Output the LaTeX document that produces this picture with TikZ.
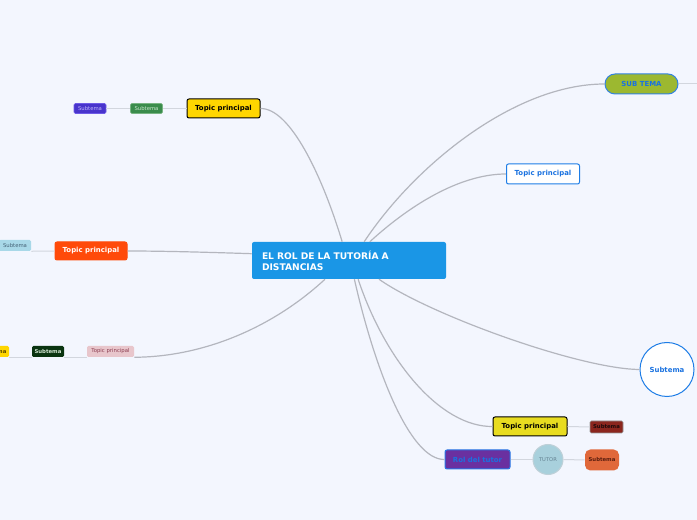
\documentclass[tikz,border=0pt]{standalone}
\usepackage{fontspec}
\setmainfont{DejaVu Sans}

\definecolor{bgcol}{HTML}{F3F6FE}
\definecolor{linecol}{HTML}{B4B6BE}
\definecolor{sublinecol}{HTML}{D2D6DE}
\definecolor{ctrblue}{HTML}{1A96E6}
\definecolor{txtblue}{HTML}{1A72E0}

\begin{document}
\begin{tikzpicture}[x=0.75pt,y=0.75pt,yscale=-1,xscale=1,
  topicbox/.style={draw, rounded corners=1.5pt, line width=0.75pt, inner sep=0pt,
    minimum width=54.75pt, minimum height=14.25pt, font=\fontsize{5.2}{6}\selectfont\bfseries},
  subbox/.style={rounded corners=1pt, inner sep=0pt, minimum width=24pt, minimum height=7.5pt,
    font=\fontsize{4}{5}\selectfont},
  mainline/.style={draw=linecol, line width=0.9pt},
  subline/.style={draw=sublinecol, line width=0.75pt}]
%uncomment if require: \path (0,520); %set diagram left start at 0, and has height of 520
\fill [bgcol] (0,0) rectangle (697,520);
\useasboundingbox (0,0) rectangle (697,520);

% Central Node
\draw (349,260.5) node (ctr) [fill=ctrblue, rounded corners=1.5pt, inner sep=0pt, minimum width=145.5pt, minimum height=27.75pt, text width=130.5pt, align=left, text=white, font=\fontsize{6.85}{8.25}\selectfont\bfseries] {EL ROL DE LA TUTORÍA A\\DISTANCIAS};

% Text Node
\draw (223.5,108.5) node (tpA) [topicbox, fill={rgb,255:red,255;green,214;blue,0}] {Topic principal};
% Text Node
\draw (146.5,108.5) node (stA1) [subbox, draw={rgb,255:red,120;green,180;blue,130}, fill={rgb,255:red,58;green,140;blue,76}, text={rgb,255:red,200;green,230;blue,205}] {Subtema};
% Text Node
\draw (90,108.5) node (stA2) [subbox, draw={rgb,255:red,110;green,90;blue,230}, fill={rgb,255:red,72;green,52;blue,204}, text={rgb,255:red,190;green,180;blue,250}] {Subtema};

% Text Node
\draw (91,251) node (tpB) [topicbox, draw={rgb,255:red,255;green,74;blue,10}, minimum width=54pt, minimum height=13.5pt, fill={rgb,255:red,255;green,74;blue,10}, text=white] {Topic principal};
% Text Node
\draw (15,245.5) node (stB) [subbox, minimum height=8.25pt, fill={rgb,255:red,168;green,216;blue,232}, text={rgb,255:red,70;green,100;blue,120}] {Subtema};

% Text Node
\draw (110.5,351.5) node (tpC) [subbox, minimum width=35.25pt, minimum height=8.25pt, fill={rgb,255:red,232;green,198;blue,204}, text={rgb,255:red,140;green,60;blue,80}] {Topic principal};
% Text Node
\draw (48,351.5) node (stC1) [subbox, minimum height=8.25pt, fill={rgb,255:red,10;green,52;blue,16}, text={rgb,255:red,210;green,230;blue,210}, font=\fontsize{4}{5}\selectfont\bfseries] {Subtema};
% Text Node
\draw (-7,351.5) node (stC2) [subbox, minimum height=8.25pt, fill={rgb,255:red,255;green,214;blue,0}, text={rgb,255:red,90;green,70;blue,0}, font=\fontsize{4}{5}\selectfont\bfseries] {Subtema};

% Text Node
\draw (641.5,84) node (sub) [topicbox, rounded corners=7.5pt, minimum height=15pt, draw={rgb,255:red,50;green,130;blue,225}, fill={rgb,255:red,156;green,184;blue,48}, text=txtblue] {SUB TEMA};
\coordinate (rEdge) at (697,84);

% Text Node
\draw (543,174) node (tpD) [topicbox, minimum height=15pt, draw={rgb,255:red,30;green,125;blue,230}, fill=white, text=txtblue] {Topic principal};

%Shape: Circle
\draw (667,369.5) node (circ) [circle, draw={rgb,255:red,30;green,125;blue,230}, line width=0.75pt, fill=white, minimum size=40.5pt, inner sep=0pt, text=txtblue, font=\fontsize{5.2}{6}\selectfont\bfseries] {Subtema};

% Text Node
\draw (530,426.5) node (tpE) [topicbox, minimum width=55.5pt, fill={rgb,255:red,232;green,220;blue,32}] {Topic principal};
% Text Node
\draw (606.5,427) node (stE) [subbox, minimum width=24.75pt, minimum height=9pt, draw={rgb,255:red,150;green,150;blue,150}, fill={rgb,255:red,139;green,38;blue,30}, text={rgb,255:red,30;green,10;blue,10}, font=\fontsize{4}{5}\selectfont\bfseries] {Subtema};

% Text Node
\draw (477.5,459.5) node (rol) [topicbox, minimum width=48.75pt, draw={rgb,255:red,40;green,120;blue,230}, fill={rgb,255:red,106;green,48;blue,160}, text=txtblue] {Rol del tutor};
%Shape: Circle
\draw (548,459.5) node (tut) [circle, draw={rgb,255:red,190;green,208;blue,216}, line width=0.75pt, fill={rgb,255:red,168;green,208;blue,220}, minimum size=22.5pt, inner sep=0pt, text={rgb,255:red,100;green,130;blue,145}, font=\fontsize{3.9}{5}\selectfont] {TUTOR};
% Text Node
\draw (602,460) node (stF) [subbox, rounded corners=4pt, minimum width=25.5pt, minimum height=15.75pt, fill={rgb,255:red,224;green,104;blue,58}, text={rgb,255:red,90;green,30;blue,15}, font=\fontsize{4}{5}\selectfont\bfseries] {Subtema};

%Curve Lines
\draw [mainline] (ctr.110.7) .. controls (322,175) and (290,108) .. (tpA.east) ;
\draw [mainline] (ctr.51) .. controls (415,165) and (515,84) .. (sub.west) ;
\draw [mainline] (ctr.42.8) .. controls (410,205) and (460,174) .. (tpD.west) ;
\draw [mainline] (ctr.176.2) .. controls (200,252) and (160,251) .. (tpB.east) ;
\draw [mainline] (ctr.-142.4) .. controls (270,330) and (200,357) .. (tpC.south east) ;
\draw [mainline] (ctr.-32.5) .. controls (430,315) and (580,369) .. (circ.west) ;
\draw [mainline] (ctr.-64.1) .. controls (385,360) and (440,427) .. (tpE.west) ;
\draw [mainline] (ctr.-74.9) .. controls (375,370) and (410,460) .. (rol.west) ;

%Straight Lines
\draw [subline] (tpA.west) -- (stA1.east) ;
\draw [subline] (stA1.west) -- (stA2.east) ;
\draw [subline] (tpB.west) -- (stB.south east) ;
\draw [subline] (tpC.south west) -- (stC1.south east) ;
\draw [subline] (stC1.south west) -- (stC2.south east) ;
\draw [subline] (sub.east) -- (rEdge) ;
\draw [subline] (tpE.east) -- (stE.west) ;
\draw [subline] (rol.east) -- (tut.west) ;
\draw [subline] (tut.east) -- (stF.west) ;

\end{tikzpicture}
\end{document}
